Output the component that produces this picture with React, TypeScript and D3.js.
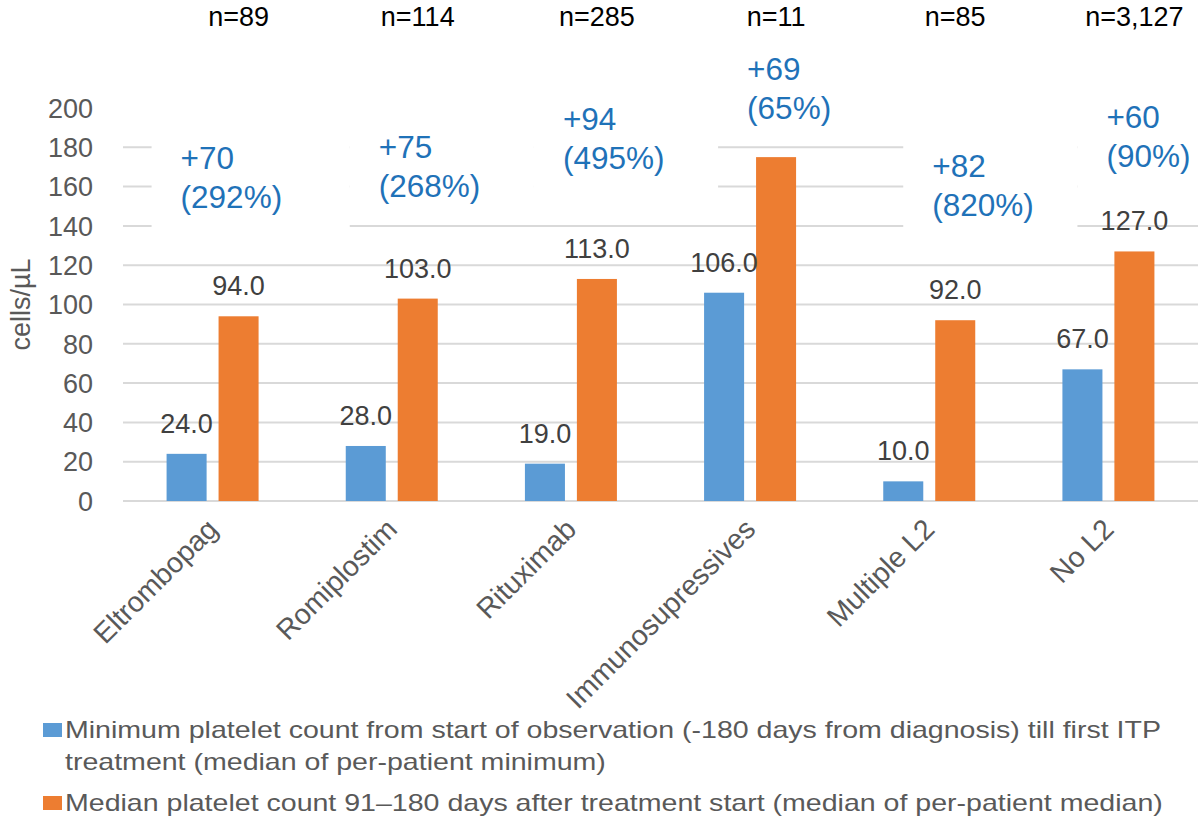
import * as d3 from "d3";

// categories and values
const categories = [
  "Eltrombopag",
  "Romiplostim",
  "Rituximab",
  "Immunosupressives",
  "Multiple L2",
  "No L2",
];
const minCounts = [24, 28, 19, 106, 10, 67];
const medianCounts = [94, 103, 113, 175, 92, 127];
const showMedianLabel = [true, true, true, false, true, true];
const sampleSizes = ["n=89", "n=114", "n=285", "n=11", "n=85", "n=3,127"];
const yTicks = [0, 20, 40, 60, 80, 100, 120, 140, 160, 180, 200];
const gridTicks = [0, 20, 40, 60, 80, 100, 120, 140, 160, 180];

const seriesKeys = ["min", "median"];
const seriesColors = ["#5B9BD5", "#ED7D31"];
const legendLines = [
  [
    "Minimum platelet count from start of observation (-180 days from diagnosis) till first ITP",
    "treatment (median of per-patient minimum)",
  ],
  ["Median platelet count 91\u2013180 days after treatment start (median of per-patient median)"],
];

// where the change notes sit: x offset from the blue bar, y in axis units
const noteDx = [14, 33, 38, 43, 49, 44];
const noteAt = [169, 174.5, 189, 214, 165, 190];

const W = 1200;
const H = 825;
const font = "'Liberation Sans', Arial, sans-serif";

const App = () => {
  const x = d3.scaleBand<string>().domain(categories).range([123, 1198]);
  const bw = x.bandwidth();
  const xi = d3
    .scaleBand<string>()
    .domain(seriesKeys)
    .range([bw / 2 - 46, bw / 2 + 46])
    .paddingInner(0.23);
  const y = d3.scaleLinear().domain([0, 200]).range([501, 108]);

  const noteLeft = categories.map((c, i) => x(c)! + xi("min")! + noteDx[i]);

  return (
    <div style={{ position: "absolute", left: 0, top: 0 }}>
      <svg width={W} height={H} style={{ display: "block", fontFamily: font }}>
        <rect width={W} height={H} fill="#fff" />
        {gridTicks.map((t) => (
          <line
            key={t}
            x1={x.range()[0]}
            x2={x.range()[1]}
            y1={y(t)}
            y2={y(t)}
            stroke="#d9d9d9"
            strokeWidth={2}
          />
        ))}
        {yTicks.map((t) => (
          <text
            key={t}
            x={93}
            y={y(t)}
            dy="0.36em"
            textAnchor="end"
            fontSize={27}
            fill="#595959"
          >
            {t}
          </text>
        ))}
        <text
          transform={`translate(30,${y(100)}) rotate(-90)`}
          textAnchor="middle"
          fontSize={27}
          fill="#595959"
        >
          cells/µL
        </text>

        {categories.map((c, i) => {
          const vals = [minCounts[i], medianCounts[i]];
          return (
            <g key={c} transform={`translate(${x(c)},0)`}>
              {seriesKeys.map((k, j) => (
                <rect
                  key={k}
                  x={xi(k)}
                  y={y(vals[j])}
                  width={xi.bandwidth()}
                  height={y(0) - y(vals[j])}
                  fill={seriesColors[j]}
                />
              ))}
              {seriesKeys.map((k, j) =>
                j === 1 && !showMedianLabel[i] ? null : (
                  <text
                    key={k}
                    x={xi(k)! + xi.bandwidth() / 2}
                    y={y(vals[j]) - 21}
                    textAnchor="middle"
                    fontSize={27}
                    fill="#404040"
                  >
                    {vals[j].toFixed(1)}
                  </text>
                )
              )}
              <text
                x={xi("median")! + xi.bandwidth() / 2}
                y={26}
                textAnchor="middle"
                fontSize={27}
                fill="#000"
              >
                {sampleSizes[i]}
              </text>
              <text
                transform={`translate(${bw / 2 + 7},531) rotate(-45)`}
                textAnchor="end"
                fontSize={28.5}
                fill="#595959"
              >
                {c}
              </text>
            </g>
          );
        })}

        {categories.map((c, i) => {
          const diff = medianCounts[i] - minCounts[i];
          const pct = Math.round((diff / minCounts[i]) * 100);
          const base = y(noteAt[i]);
          const left = noteLeft[i] - 29;
          const right = i < categories.length - 1 ? noteLeft[i + 1] - 29 : x.range()[1];
          return (
            <g key={c}>
              <rect x={left} y={base - 33} width={right - left} height={33 + 39 + 24} fill="#fff" />
              <text x={noteLeft[i]} y={base} fontSize={31.5} fill="#1F72B8">
                +{diff}
              </text>
              <text x={noteLeft[i]} y={base + 39} fontSize={31.5} fill="#1F72B8">
                ({pct}%)
              </text>
            </g>
          );
        })}

        {legendLines.map((lines, i) => {
          const base = i === 0 ? 738 : 811;
          return (
            <g key={i}>
              <rect x={43} y={base - 15} width={19} height={14} fill={seriesColors[i]} />
              <g transform={`translate(65,${base}) scale(1.19,1)`}>
                {lines.map((l, k) => (
                  <text key={k} x={0} y={k * 32} fontSize={24} fill="#595959">
                    {l}
                  </text>
                ))}
              </g>
            </g>
          );
        })}
      </svg>
    </div>
  );
};

export default App;
